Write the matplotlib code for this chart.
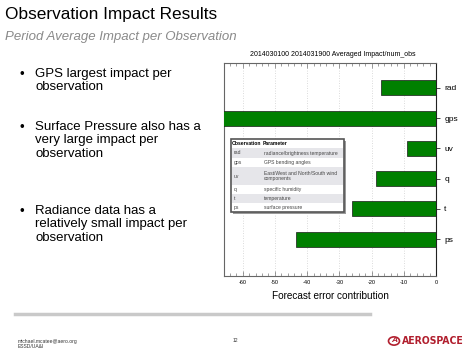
import matplotlib
matplotlib.use("Agg")
import matplotlib.pyplot as plt
from matplotlib.patches import Rectangle, Circle
from matplotlib import font_manager

plt.rcParams['font.family'] = ['Liberation Sans', 'DejaVu Sans']

# ---- data ----
categories = ["rad", "gps", "uv", "q", "t", "ps"]
impact = [-17.2, -70.0, -8.9, -18.6, -26.2, -43.6]
xticks = [-60, -50, -40, -30, -20, -10, 0]
table_keys = ["rad", "gps", "uv", "q", "t", "ps"]
table_desc = ["radiance/brightness temperature", "GPS bending angles",
              "East/West and North/South wind\ncomponents", "specific humidity",
              "temperature", "surface pressure"]
bullets = ["GPS largest impact per\nobservation",
           "Surface Pressure also has a\nvery large impact per\nobservation",
           "Radiance data has a\nrelatively small impact per\nobservation"]

W, H = 474, 355
fig = plt.figure(figsize=(W / 100, H / 100), dpi=100)
fig.patch.set_facecolor("white")

def fx(px):
    return px / W

def fy(py):
    return 1 - py / H

# ---- slide text ----
fig.text(fx(5), fy(15), "Observation Impact Results", fontsize=12.4, va="center", ha="left", color="black")
fig.text(fx(5), fy(37), "Period Average Impact per Observation", fontsize=9.5, style="italic",
         va="center", ha="left", color="#8a8a8a")

bullet_y = [75, 128, 212]
for by, btxt in zip(bullet_y, bullets):
    fig.text(fx(19), fy(by), "\u2022", fontsize=9.5, va="center", ha="left")
    fig.text(fx(35), fy(by - 7), btxt, fontsize=9.5, va="top", ha="left", linespacing=1.15)

# ---- chart ----
ax = fig.add_axes([fx(224), fy(276), fx(436) - fx(224), fy(63) - fy(276)])
pos = list(range(len(categories)))
ax.barh(pos, impact, height=0.5, color="#008000", edgecolor="#1a1a1a", linewidth=0.5, zorder=3)
ax.set_xlim(-65.8, 0)
ax.set_ylim(len(categories) - 1 + 1.22, -0.82)
ax.set_xticks(xticks)
ax.set_xticklabels([str(v) for v in xticks], fontsize=4)
ax.set_xticks(range(-64, 1, 2), minor=True)
ax.tick_params(axis="x", which="both", direction="in", top=True, bottom=True, length=2.5,
               width=0.4, color="#555555", pad=3)
ax.tick_params(axis="x", which="major", length=3.5)
ax.yaxis.tick_right()
ax.set_yticks(pos)
ax.set_yticklabels(categories, fontsize=6)
ax.tick_params(axis="y", direction="out", length=3, width=0.5, pad=3, left=False)
for v in xticks[:-1]:
    ax.axvline(v, color="#cfcfcf", linestyle=(0, (1, 2)), linewidth=0.6, zorder=1)
for s in ["left", "top", "bottom"]:
    ax.spines[s].set_color("#666666")
    ax.spines[s].set_linewidth(0.8)
ax.spines["right"].set_color("#222222")
ax.spines["right"].set_linewidth(0.8)
ax.set_xlabel("Forecast error contribution", fontsize=7.2, labelpad=4)
fig.text(fx(333), fy(54), "2014030100 2014031900 Averaged Impact/num_obs", fontsize=5,
         ha="center", va="center")

# ---- inset table ----
tx0, tx1, tcol = 231, 344, 263
row_bounds = [139, 148, 158, 167, 185, 194, 203, 212]
fig.patches.append(Rectangle((fx(tx0 + 1.5), fy(row_bounds[-1] + 1.5)), fx(tx1 - tx0), fy(row_bounds[0]) - fy(row_bounds[-1]),
                             transform=fig.transFigure, facecolor="#9a9a9a", edgecolor="none", zorder=4))
fig.patches.append(Rectangle((fx(tx0), fy(row_bounds[-1])), fx(tx1 - tx0), fy(row_bounds[0]) - fy(row_bounds[-1]),
                             transform=fig.transFigure, facecolor="white", edgecolor="#555555", linewidth=1.2, zorder=5))
fig.text(fx(tx0 + 1), fy((row_bounds[0] + row_bounds[1]) / 2), "Observation", fontsize=3.6, weight="bold",
         ha="left", va="center", zorder=7)
fig.text(fx(tcol), fy((row_bounds[0] + row_bounds[1]) / 2), "Parameter", fontsize=3.6, weight="bold",
         ha="left", va="center", zorder=7)
for i, (k, d) in enumerate(zip(table_keys, table_desc)):
    top, bot = row_bounds[i + 1], row_bounds[i + 2]
    if i % 2 == 0:
        fig.patches.append(Rectangle((fx(tx0 + 0.8), fy(bot)), fx(tx1 - tx0 - 1.6), fy(top) - fy(bot),
                                     transform=fig.transFigure, facecolor="#e6e6ea", edgecolor="none", zorder=6))
    cy = (top + bot) / 2
    fig.text(fx(tx0 + 3), fy(cy), k, fontsize=3.6, ha="left", va="center", color="#444444", zorder=7)
    fig.text(fx(tcol + 1), fy(cy), d, fontsize=3.6, ha="left", va="center", color="#444444",
             linespacing=1.1, zorder=7)

# ---- footer ----
fig.add_artist(plt.Line2D([fx(15), fx(370)], [fy(314), fy(314)], color="#c9c9c9", linewidth=2.5))
fig.text(fx(18), fy(341), "michael.mcatee@aero.org", fontsize=3.6, ha="left", va="center", color="#333333")
fig.text(fx(18), fy(346.5), "ESSD/UA&I", fontsize=3.6, ha="left", va="center", color="#333333")
fig.text(fx(235), fy(340), "12", fontsize=3.6, ha="center", va="center", color="#333333")
fig.patches.append(Circle((fx(394), fy(341)), fx(5.5), transform=fig.transFigure, facecolor="none",
                          edgecolor="#b11f2e", linewidth=1.2))
fig.text(fx(394), fy(341), "A", fontsize=6, weight="bold", style="italic", ha="center", va="center", color="#b11f2e")

bold_narrow = [f for f in font_manager.fontManager.ttflist
               if ("Narrow" in f.name or "Condensed" in f.fname) and f.weight in (600, 700, "bold")
               and f.style == "normal"]
if bold_narrow:
    logo_fp = font_manager.FontProperties(fname=bold_narrow[0].fname, size=9)
else:
    logo_fp = font_manager.FontProperties(family="Liberation Sans", weight="bold", size=9)
logo = fig.text(fx(402), fy(341), "AEROSPACE", fontproperties=logo_fp, ha="left", va="center", color="#b11f2e")
renderer = fig.canvas.get_renderer()
wpx = logo.get_window_extent(renderer).width
logo.set_fontsize(9 * 62.0 / wpx)

fig.savefig("out.png", dpi=100)
